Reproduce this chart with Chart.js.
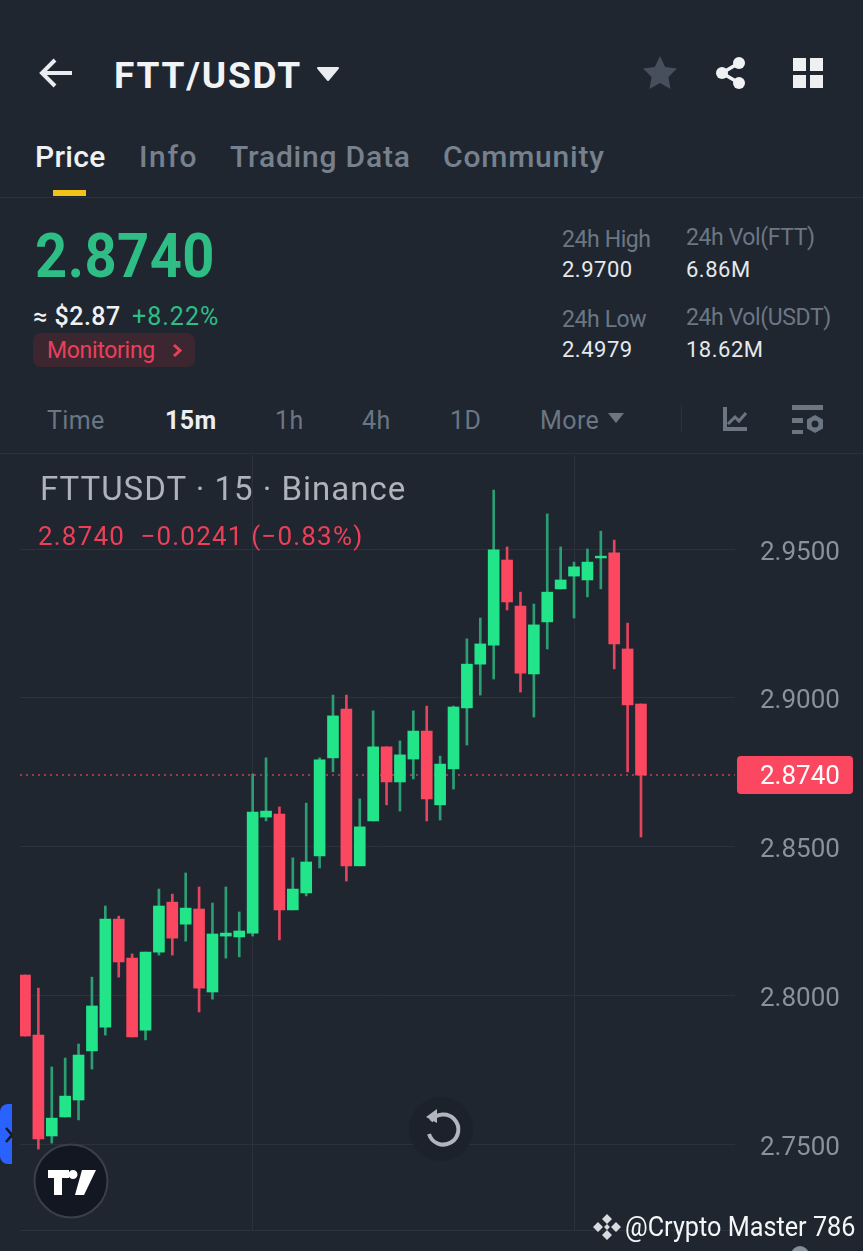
<!DOCTYPE html>
<html>
<head>
<meta charset="utf-8">
<title>FTT/USDT</title>
<script src="https://cdn.jsdelivr.net/npm/chart.js@4"></script>
<style>
  html, body { margin: 0; padding: 0; background: #1f2630; }
  body { position: relative; width: 863px; height: 1251px; overflow: hidden; font-family: Roboto, sans-serif; }
  canvas { position: absolute; left: 0; top: 455px; }
  .t { position: absolute; white-space: nowrap; line-height: 1; }
  .tab { font-size: 30px; font-weight: 500; top: 142px; color: #77818e; letter-spacing: 0.8px; }
  .lab { font-size: 23px; color: #6c7683; letter-spacing: -0.4px; }
  .val { font-size: 22px; color: #e6e8ea; letter-spacing: 0.5px; }
  .tf { font-size: 25px; top: 408px; color: #6c7683; letter-spacing: 0.4px; }
  .line { position: absolute; background: #2b323d; }
  svg { position: absolute; }
</style>
</head>
<body>

<svg style="left:37px;top:56px" width="38" height="34" viewBox="0 0 38 34"><path d="M35 17H5M18 4L5 17l13 13" fill="none" stroke="#eaecef" stroke-width="4"/></svg>
<div class="t" style="left:114px;top:57px;font-size:37px;font-weight:700;color:#f2f3f5;letter-spacing:1.8px">FTT/USDT</div>
<svg style="left:316px;top:66px" width="24" height="16"><path d="M2 2h20L12 14z" fill="#eaecef" stroke="#eaecef" stroke-linejoin="round" stroke-width="2"/></svg>
<svg style="left:642px;top:55px" width="36" height="36" viewBox="0 0 36 36"><path d="M18 1l5.2 11 11.8 1.6-8.6 8.3 2.1 12L18 28.1 7.500 33.900l2.100-12L1 13.600 12.800 12z" fill="#474f5c"/></svg>
<svg style="left:714px;top:56px" width="34" height="34" viewBox="0 0 34 34"><path d="M25 7L8 17l17 10" fill="none" stroke="#f0f1f3" stroke-width="3.500"/><circle cx="25" cy="7" r="6" fill="#f0f1f3"/><circle cx="8" cy="17" r="6" fill="#f0f1f3"/><circle cx="25" cy="27" r="6" fill="#f0f1f3"/></svg>
<svg style="left:793px;top:58px" width="30" height="30"><path d="M0 0h13v13H0zM17 0h13v13H17zM0 17h13v13H0zM17 17h13v13H17z" fill="#eeeff1"/></svg>

<div class="t tab" style="left:35px;color:#f0f1f3;letter-spacing:0.3px">Price</div>
<div class="t tab" style="left:139px;letter-spacing:1.6px">Info</div>
<div class="t tab" style="left:230px">Trading Data</div>
<div class="t tab" style="left:443px">Community</div>
<div style="position:absolute;left:53px;top:190px;width:33px;height:6px;background:#f0c419"></div>
<div class="line" style="left:0;top:197px;width:863px;height:1px"></div>

<div class="t" style="left:35px;top:226px;font-size:61px;font-weight:700;color:#2dbd85;letter-spacing:0.5px;transform:scaleX(0.92);transform-origin:left">2.8740</div>
<div class="t" style="left:33px;top:304px;font-size:25px;font-weight:500;color:#f0f1f3;letter-spacing:0.5px">≈ $2.87</div>
<div class="t" style="left:132px;top:304px;font-size:25px;color:#2dbd85;letter-spacing:1px">+8.22%</div>
<div style="position:absolute;left:33px;top:333px;width:162px;height:34px;background:#3c2731;border-radius:8px"></div>
<div class="t" style="left:47px;top:339px;font-size:23px;color:#e8405a;letter-spacing:-0.3px">Monitoring</div>
<svg style="left:171px;top:343px" width="13" height="15"><path d="M3 2l6 5.500-6 5.500" fill="none" stroke="#e8405a" stroke-width="3"/></svg>

<div class="t lab" style="left:562px;top:228px">24h High</div>
<div class="t val" style="left:562px;top:259px">2.9700</div>
<div class="t lab" style="left:686px;top:226px">24h Vol(FTT)</div>
<div class="t val" style="left:686px;top:259px">6.86M</div>
<div class="t lab" style="left:562px;top:308px">24h Low</div>
<div class="t val" style="left:562px;top:339px">2.4979</div>
<div class="t lab" style="left:686px;top:306px">24h Vol(USDT)</div>
<div class="t val" style="left:686px;top:339px">18.62M</div>

<div class="t tf" style="left:47px">Time</div>
<div class="t tf" style="left:165px;color:#eceef0;font-weight:700">15m</div>
<div class="t tf" style="left:275px">1h</div>
<div class="t tf" style="left:362px">4h</div>
<div class="t tf" style="left:450px">1D</div>
<div class="t tf" style="left:540px">More</div>
<svg style="left:608px;top:412px" width="16" height="12"><path d="M0 1h16L8 11z" fill="#6c7683"/></svg>
<div class="line" style="left:681px;top:405px;width:1px;height:27px"></div>
<svg style="left:723px;top:406px" width="26" height="26"><path d="M2 1v22h22" fill="none" stroke="#6c7683" stroke-width="4"/><path d="M5 18l7-7 4 4 7-8" fill="none" stroke="#6c7683" stroke-width="3"/></svg>
<svg style="left:792px;top:403px" width="32" height="32"><path d="M0 2h31v5H0zM0 15h11v5H0zM0 27h11v4H0z" fill="#6c7683"/><path d="M23 12l8 4.500v9L23 30l-8-4.500v-9z" fill="#6c7683"/><circle cx="23" cy="21" r="3.500" fill="#1f2630"/></svg>
<div class="line" style="left:0;top:453px;width:863px;height:1px"></div>

<canvas id="candleChart" width="863" height="796"></canvas>

<div class="t" style="left:40px;top:472px;font-size:33px;color:#aeb2ba;letter-spacing:1px">FTTUSDT · 15 · Binance</div>
<div class="t" style="left:38px;top:523px;font-size:26px;color:#ee3f58;letter-spacing:1.2px">2.8740&nbsp; −0.0241 (−0.83%)</div>

<svg style="left:0;top:1104px" width="12" height="60"><path d="M12 0H8a8 8 0 0 0-8 8v44a8 8 0 0 0 8 8h4z" fill="#2962ff"/><path d="M6 24l6 7-6 7" fill="none" stroke="#131722" stroke-width="2.500"/></svg>
<svg style="left:33px;top:1143px" width="76" height="76"><circle cx="38" cy="38" r="36.500" fill="#131722" stroke="#3a404b" stroke-width="2"/><path d="M15 27h21v8h-7v17h-8V35h-6zM40 27a4.500 4.500 0 1 1 0 9 4.500 4.500 0 0 1 0-9zM49 27h14l-12 25h-9z" fill="#fff"/></svg>
<svg style="left:407px;top:1095px" width="68" height="68"><circle cx="34" cy="34" r="32" fill="#1c222c"/><path d="M24 26a15 15 0 1 1-2 13" fill="none" stroke="#b2b5be" stroke-width="4"/><path d="M30 14v14l-11-6z" fill="#b2b5be"/></svg>

<svg style="left:593px;top:1213px" width="28" height="28" viewBox="0 0 28 28"><path d="M14 1l5 5-5 5-5-5zM5 9l5 5-5 5-5-5zM23 9l5 5-5 5-5-5zM14 11l3 3-3 3-3-3zM14 17l5 5-5 5-5-5z" fill="#d9dbde"/></svg>
<div class="t" style="left:625px;top:1214px;font-size:27px;color:#f5f6f7;transform:scaleX(0.935);transform-origin:left">@Crypto Master 786</div>
<svg style="left:786px;top:1241px" width="28" height="10"><circle cx="14" cy="14" r="9" fill="#848e9c"/></svg>

<script>
// candles, oldest first
const opens  = [2.8068,2.7866,2.7527,2.7591,2.7648,2.7813,2.7893,2.8256,2.8125,2.7883,2.8145,2.8313,2.8239,2.8290,2.8011,2.8199,2.8196,2.8209,2.8599,2.8609,2.8287,2.8344,2.8468,2.8798,2.8962,2.8435,2.8586,2.8835,2.8717,2.8794,2.8888,2.8640,2.8761,2.8966,2.9113,2.9177,2.9463,2.9308,2.9080,2.9255,2.9366,2.9409,2.9396,2.9470,2.9487,2.9164,2.8979];
const highs  = [2.8068,2.8024,2.7759,2.7789,2.7836,2.8061,2.8300,2.8266,2.8139,2.8145,2.8357,2.8340,2.8411,2.8364,2.8310,2.8364,2.8280,2.8744,2.8798,2.8633,2.8462,2.8646,2.8798,2.9009,2.9009,2.8660,2.8956,2.8835,2.8855,2.8956,2.8972,2.8804,2.8972,2.9198,2.9268,2.9698,2.9507,2.9355,2.9315,2.9618,2.9507,2.9456,2.9500,2.9560,2.9530,2.9251,2.8979];
const lows   = [2.7863,2.7483,2.7503,2.7591,2.7581,2.7752,2.7866,2.8061,2.7860,2.7850,2.8135,2.8135,2.8182,2.7944,2.7987,2.8125,2.8129,2.8199,2.8586,2.8186,2.8287,2.8334,2.8428,2.8751,2.8384,2.8435,2.8586,2.8640,2.8619,2.8727,2.8586,2.8589,2.8693,2.8841,2.9009,2.9063,2.9295,2.9019,2.8935,2.9164,2.9366,2.9268,2.9339,2.9366,2.9097,2.8751,2.8532];
const closes = [2.7863,2.7517,2.7587,2.7661,2.7799,2.7964,2.8256,2.8112,2.7860,2.8145,2.8300,2.8192,2.8293,2.8024,2.8206,2.8209,2.8216,2.8616,2.8619,2.8287,2.8357,2.8448,2.8791,2.8939,2.8435,2.8566,2.8835,2.8717,2.8808,2.8888,2.8660,2.8777,2.8969,2.9113,2.9181,2.9497,2.9322,2.9083,2.9245,2.9355,2.9396,2.9440,2.9456,2.9476,2.9181,2.8976,2.8740];
const candleIndex = opens.map((_, i) => i);

const priceTicks = [2.75, 2.80, 2.85, 2.90, 2.95];
const timeGridCandles = [17, 41];
const lastPrice = 2.8740;

const UP = '#22e58a', DOWN = '#fb4760';
const UP_WICK = '#2b9f73', DOWN_WICK = '#e6435c';
const GRID = '#2b323d';

// visible window of the chart
const xMin = -0.373, xMax = 53.02;
const yMin = 2.7211, yMax = 2.9816;

function isUp(i) { return closes[i] >= opens[i]; }

// last price tag on the right axis
const priceTag = {
  id: 'priceTag',
  afterDraw(chart) {
    const { ctx, scales } = chart;
    const py = scales.y.getPixelForValue(lastPrice);
    ctx.save();
    ctx.fillStyle = DOWN;
    ctx.beginPath();
    ctx.roundRect(737, py - 19, 116, 38, 4);
    ctx.fill();
    ctx.fillStyle = '#fff';
    ctx.font = '26px Roboto';
    ctx.textBaseline = 'middle';
    ctx.fillText(lastPrice.toFixed(4), 760, py + 2);
    ctx.restore();
  }
};

new Chart(document.getElementById('candleChart'), {
  type: 'bar',
  plugins: [priceTag],
  data: {
    datasets: [
      {
        type: 'line',
        data: [{ x: xMin, y: lastPrice }, { x: xMax, y: lastPrice }],
        borderColor: '#c9404f',
        borderWidth: 1.5,
        borderDash: [2, 4],
        pointRadius: 0,
        order: 3
      },
      {
        data: candleIndex.map(i => ({ x: i, y: [lows[i], highs[i]] })),
        backgroundColor: candleIndex.map(i => isUp(i) ? UP_WICK : DOWN_WICK),
        barThickness: 2,
        grouped: false,
        order: 2
      },
      {
        data: candleIndex.map(i => ({ x: i, y: [opens[i], closes[i]] })),
        backgroundColor: candleIndex.map(i => isUp(i) ? UP : DOWN),
        barThickness: 11,
        grouped: false,
        order: 1
      }
    ]
  },
  options: {
    responsive: false,
    animation: false,
    layout: { padding: { left: 20, bottom: 21 } },
    plugins: { legend: { display: false }, tooltip: { enabled: false } },
    scales: {
      x: {
        type: 'linear',
        offset: false,
        min: xMin,
        max: xMax,
        afterBuildTicks: s => { s.ticks = timeGridCandles.map(value => ({ value })); },
        afterFit: s => { s.height = 0; },
        ticks: { display: false },
        grid: { color: GRID, drawTicks: false, offset: false },
        border: { color: GRID }
      },
      y: {
        position: 'right',
        min: yMin,
        max: yMax,
        afterBuildTicks: s => { s.ticks = priceTicks.map(value => ({ value })); },
        afterFit: s => { s.width = 128; s.paddingTop = 0; s.paddingBottom = 0; },
        ticks: {
          color: '#8a919c',
          padding: 25,
          labelOffset: 4,
          font: { family: 'Roboto', size: 26 },
          callback: v => v.toFixed(4)
        },
        grid: { color: GRID, drawTicks: false },
        border: { display: false }
      }
    }
  }
});
</script>
</body>
</html>
